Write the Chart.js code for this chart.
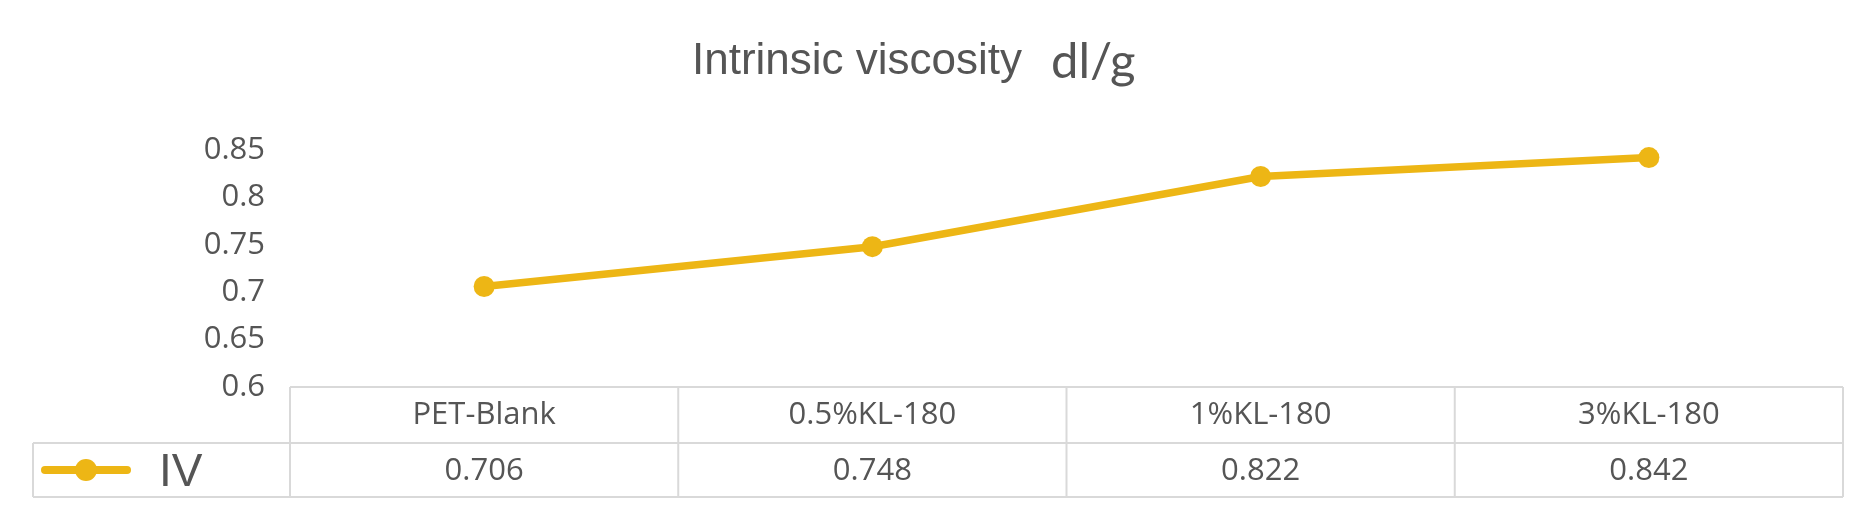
<!DOCTYPE html>
<html>
<head>
<meta charset="utf-8">
<script src="https://cdn.jsdelivr.net/npm/chart.js@4.4.1/dist/chart.umd.min.js"></script>
<style>
  html, body { margin: 0; padding: 0; background: #ffffff; }
  #wrap { width: 1873px; height: 515px; position: relative; }
</style>
</head>
<body>
<div id="wrap"><canvas id="c" width="1873" height="515"></canvas></div>
<script>
const categories = ['PET-Blank', '0.5%KL-180', '1%KL-180', '3%KL-180'];
const ivValues = [0.706, 0.748, 0.822, 0.842];
const seriesName = 'IV';
const yTickValues = [0.6, 0.65, 0.7, 0.75, 0.8, 0.85];
const yTickLabels = ['0.6', '0.65', '0.7', '0.75', '0.8', '0.85'];
const titleMain = 'Intrinsic viscosity';
const titleUnit = 'dl/g';

const LINE_COLOR = '#EDB615';
const TEXT_COLOR = '#555555';
const GRID_COLOR = '#D9D9D9';

const tablePlugin = {
  id: 'dataTable',
  afterDraw(chart) {
    const ctx = chart.ctx;
    const xs = chart.scales.x;
    const ys = chart.scales.y;
    const area = chart.chartArea;
    const n = categories.length;
    const half = (xs.getPixelForValue(1) - xs.getPixelForValue(0)) / 2;
    const top = ys.getPixelForValue(yTickValues[0]);
    const mid = top + 56;
    const bot = top + 110;
    const legendLeft = 33;

    ctx.save();
    ctx.strokeStyle = GRID_COLOR;
    ctx.lineWidth = 2;
    ctx.beginPath();
    ctx.moveTo(area.left, top); ctx.lineTo(area.right, top);
    ctx.moveTo(legendLeft, mid); ctx.lineTo(area.right, mid);
    ctx.moveTo(legendLeft, bot); ctx.lineTo(area.right, bot);
    ctx.moveTo(legendLeft, mid); ctx.lineTo(legendLeft, bot);
    for (let i = 0; i <= n; i++) {
      const x = i < n ? xs.getPixelForValue(i) - half : area.right;
      ctx.moveTo(x, top); ctx.lineTo(x, bot);
    }
    ctx.stroke();

    // legend key
    const ly = (mid + bot) / 2;
    ctx.strokeStyle = LINE_COLOR;
    ctx.lineWidth = 8;
    ctx.lineCap = 'round';
    ctx.beginPath();
    ctx.moveTo(45, ly); ctx.lineTo(127, ly);
    ctx.stroke();
    ctx.fillStyle = LINE_COLOR;
    ctx.beginPath();
    ctx.arc(86, ly, 11, 0, Math.PI * 2);
    ctx.fill();

    ctx.fillStyle = TEXT_COLOR;
    ctx.font = '46px "Liberation Sans", Arial, sans-serif';
    ctx.textBaseline = 'alphabetic';
    ctx.textAlign = 'left';
    ctx.fillText(seriesName, 159, ly + 16);

    // title
    ctx.font = '44px "Liberation Sans", Arial, sans-serif';
    ctx.fillText(titleMain, 692, 74);
    ctx.font = '49px Lato, "Open Sans", sans-serif';
    ctx.fillText(titleUnit, 1051, 78);
    ctx.restore();
  }
};

new Chart(document.getElementById('c'), {
  type: 'line',
  data: {
    labels: categories,
    datasets: [{
      label: seriesName,
      data: ivValues,
      borderColor: LINE_COLOR,
      backgroundColor: LINE_COLOR,
      borderWidth: 7.5,
      pointRadius: 10.5,
      pointBorderWidth: 0,
      pointBackgroundColor: LINE_COLOR,
      tension: 0,
      clip: false
    }]
  },
  options: {
    responsive: false,
    animation: false,
    layout: { padding: { top: 150, right: 30, left: 0, bottom: 0 } },
    plugins: {
      legend: { display: false },
      title: { display: false },
      tooltip: { enabled: false }
    },
    scales: {
      x: {
        offset: true,
        grid: { display: false, drawTicks: false },
        border: { display: false },
        afterFit(scale) { scale.height = 128; },
        ticks: {
          padding: 0,
          color: TEXT_COLOR,
          font: { family: '"Open Sans", sans-serif', size: 31, lineHeight: 1.8 },
          maxRotation: 0,
          autoSkip: false,
          callback(value, index) { return [categories[index], String(ivValues[index])]; }
        }
      },
      y: {
        min: 0.6,
        max: 0.85,
        grid: { display: false, drawTicks: false },
        border: { display: false },
        afterFit(scale) { scale.width = 290; },
        afterBuildTicks(scale) { scale.ticks = yTickValues.map(v => ({ value: v })); },
        ticks: {
          padding: 25,
          color: TEXT_COLOR,
          font: { family: '"Open Sans", sans-serif', size: 31 },
          callback(value, index) { return yTickLabels[index]; }
        }
      }
    }
  },
  plugins: [tablePlugin]
});
</script>
</body>
</html>
